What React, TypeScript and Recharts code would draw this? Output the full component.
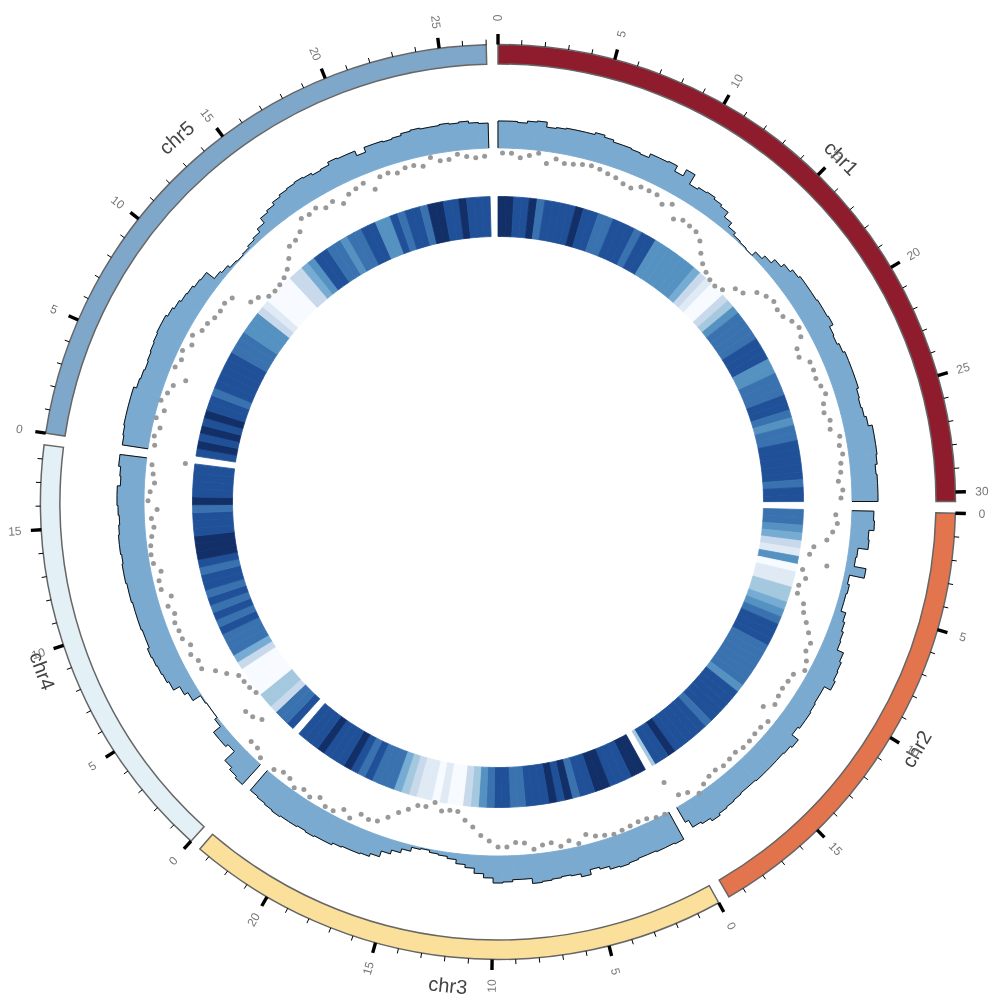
import { Cell, Pie, PieChart, PolarAngleAxis, PolarRadiusAxis, Radar, RadarChart, Sector } from "recharts";

const chromosomes = ["chr1", "chr2", "chr3", "chr4", "chr5"];
const chrLengths = [30.4, 19.7, 23.5, 18.6, 27.0];
const chrColors = ["#8f1c2d", "#e2744e", "#fae09b", "#e3f1f7", "#7fa7c9"];
const GAP = 0.5;
const BIN = 0.5;

// histogram track, one value per 0.5 Mb bin
const histChr1 = [27, 27, 26, 28, 29, 24, 25, 26, 26, 26, 28, 26, 24, 24, 23, 22, 26, 26, 27, 21, 28, 17, 19, 20, 18, 16, 10, 5, 2, 1, 0, 5, 9, 14, 18, 21, 23, 23, 23, 24, 24, 25, 21, 20, 22, 24, 24, 24, 24, 22, 21, 22, 24, 28, 28, 28, 27, 25, 26, 26, 26];
const histChr2 = [22, 23, 18, 19, 9, 8, 20, 5, 7, 6, 6, 11, 13, 15, 16, 23, 25, 26, 28, 21, 21, 22, 23, 23, 21, 29, 27, 26, 26, 26, 26, 25, 25, 26, 27, 28, 30, 27, 25, 17];
const histChr3 = [31, 30, 30, 29, 29, 30, 31, 30, 27, 25, 30, 27, 26, 27, 28, 29, 24, 24, 26, 27, 22, 18, 13, 10, 6, 4, 3, 1, 2, 6, 10, 14, 20, 23, 24, 24, 25, 27, 27, 28, 27, 28, 28, 29, 28, 27, 26];
const histChr4 = [27, 25, 22, 9, 12, 12, 3, 0, 0, 1, 10, 14, 21, 23, 24, 25, 26, 24, 24, 25, 25, 25, 26, 26, 27, 27, 26, 27, 27, 26, 25, 26, 27, 27, 24, 25, 27, 27];
const histChr5 = [26, 27, 28, 28, 28, 28, 25, 24, 23, 24, 25, 26, 27, 27, 25, 23, 21, 20, 18, 17, 7, 5, 2, 1, 2, 4, 6, 10, 16, 18, 21, 23, 24, 25, 24, 22, 23, 26, 25, 25, 20, 25, 25, 24, 25, 27, 28, 27, 27, 28, 27, 28, 26, 25];

// scatter track
const dotsChr1 = [49, 49, 45, 48, 51, 42, 48, 45, 46, 48, 49, 48, 46, 45, 42, 41, 46, 46, 46, 40, 45, 33, 37, 36, 35, 30, 21, 14, 10, 7, 6, 9, 19, 22, 33, 38, 41, 39, 40, 45, 48, 45, 36, 34, 42, 42, 41, 43, 45, 40, 38, 42, 40, 48, 46, 48, 45, 44, 41, 45, 43];
const dotsChr2 = [38, 40, 36, 31, 19, 16, 35, 12, 17, 12, 13, 22, 25, 31, 37, 43, 42, 47, 50, 42, 41, 40, 41, 43, 35, 48, 46, 46, 47, 47, 45, 46, 47, 45, 46, 49, 54, 47, 44, 26];
const dotsChr3 = [54, 53, 50, 49, 50, 51, 52, 50, 48, 44, 51, 46, 50, 45, 46, 49, 42, 41, 45, 45, 39, 34, 26, 20, 12, 12, 14, 7, 13, 14, 20, 26, 34, 41, 43, 41, 49, 44, 50, 50, 45, 50, 47, 51, 46, 45, 49];
const dotsChr4 = [49, 44, 44, 21, 26, 28, 8, 10, 11, 12, 21, 29, 40, 39, 43, 39, 44, 44, 45, 42, 46, 40, 48, 48, 44, 50, 51, 50, 48, 45, 47, 41, 50, 48, 44, 46, 48, 15];
const dotsChr5 = [48, 50, 46, 52, 46, 52, 48, 45, 35, 50, 47, 50, 44, 48, 42, 41, 38, 37, 38, 35, 18, 15, 8, 7, 8, 10, 14, 21, 30, 31, 35, 45, 44, 46, 41, 43, 36, 42, 44, 46, 36, 46, 47, 44, 47, 47, 44, 51, 46, 46, 50, 47, 45, 46];

// heatmap track, 0 (palest) to 8 (darkest)
const heatChr1 = [8, 8, 7, 7, 8, 6, 7, 7, 7, 7, 8, 7, 7, 6, 6, 7, 7, 7, 6, 7, 7, 5, 5, 5, 5, 5, 5, 4, 2, 1, 0, 0, 2, 3, 5, 6, 6, 6, 6, 7, 7, 7, 5, 5, 6, 6, 6, 7, 7, 6, 5, 6, 6, 7, 7, 7, 7, 7, 6, 7, 7];
const heatChr2 = [6, 6, 5, 4, 2, 1, 5, 0, 1, 1, 3, 3, 4, 5, 6, 7, 7, 7, 6, 6, 6, 6, 6, 6, 5, 7, 7, 7, 7, 7, 6, 7, 7, 7, 7, 7, 8, 7, 7, 3];
const heatChr3 = [8, 8, 7, 7, 7, 8, 8, 7, 7, 6, 8, 7, 8, 7, 7, 7, 6, 6, 7, 7, 6, 5, 3, 2, 0, 0, 1, 0, 1, 1, 2, 3, 4, 6, 6, 6, 7, 6, 7, 8, 7, 7, 7, 8, 7, 7, 7];
const heatChr4 = [7, 6, 6, 2, 3, 3, 0, 0, 0, 0, 2, 4, 6, 6, 6, 7, 6, 7, 6, 7, 6, 7, 7, 6, 7, 8, 8, 8, 7, 7, 7, 6, 8, 7, 7, 7, 7, 7];
const heatChr5 = [7, 8, 7, 8, 7, 8, 7, 7, 6, 7, 7, 7, 7, 7, 6, 6, 6, 5, 5, 5, 2, 1, 0, 0, 0, 0, 2, 2, 4, 5, 7, 7, 6, 6, 5, 6, 6, 7, 7, 5, 5, 7, 6, 7, 7, 6, 8, 8, 7, 7, 8, 7, 7, 7];
const heatColors = ["#f7fbff", "#e0eaf5", "#c9d9ec", "#a4c8de", "#76acd3", "#5592c2", "#3a72b0", "#205198", "#122f68"];

const histTracks = [histChr1, histChr2, histChr3, histChr4, histChr5];
const dotTracks = [dotsChr1, dotsChr2, dotsChr3, dotsChr4, dotsChr5];
const heatTracks = [heatChr1, heatChr2, heatChr3, heatChr4, heatChr5];

const WIDTH = 996;
const HEIGHT = 998;
const CX = 498;
const CY = 502;
const HIST_BASE = 354;
const total = chrLengths.reduce((a, b) => a + b + GAP, 0);
const offsets = chrLengths.map((_, i) => chrLengths.slice(0, i).reduce((a, b) => a + b + GAP, 0));

const binSize = (chr: number, i: number) => Math.min(BIN, chrLengths[chr] - i * BIN);

const ringRows = chromosomes.flatMap((name, i) => [
  { name, size: chrLengths[i], color: chrColors[i], mid: offsets[i] + chrLengths[i] / 2 },
  { name: "", size: GAP, color: "none", mid: 0 },
]);

const histRows = histTracks.flatMap((track, c) => [
  ...track.map((h, i) => ({
    size: binSize(c, i),
    h,
    prev: i > 0 ? track[i - 1] : null,
    next: i < track.length - 1 ? track[i + 1] : null,
  })),
  { size: GAP, h: null, prev: null, next: null },
]);

const heatRows = heatTracks.flatMap((track, c) => [
  ...track.map((v, i) => ({ size: binSize(c, i), color: heatColors[v] })),
  { size: GAP, color: "none" },
]);

const dotRows = dotTracks.flatMap((track, c) =>
  track.map((v, i) => ({ pos: offsets[c] + i * BIN + binSize(c, i) / 2, v })),
);

const tickRows = chrLengths.flatMap((len, c) =>
  Array.from({ length: Math.floor(len) + 1 }, (_, mb) => ({ pos: offsets[c] + mb, mb, ring: 157.5 })),
);

const pt = (r: number, deg: number) => {
  const rad = (deg * Math.PI) / 180;
  return `${CX + r * Math.cos(rad)} ${CY - r * Math.sin(rad)}`;
};

const rowOf = (props: any) => props.payload?.payload ?? props.payload;

const HistFill = (props: any) => {
  const row = rowOf(props);
  if (row.h === null || row.h === undefined) return null;
  return <Sector {...props} innerRadius={HIST_BASE} outerRadius={HIST_BASE + row.h} fill="#7aaad0" stroke="#7aaad0" strokeWidth={0.9} />;
};

const HistOutline = (props: any) => {
  const { startAngle, endAngle } = props;
  const row = rowOf(props);
  if (row.h === null || row.h === undefined) return null;
  const r = HIST_BASE + row.h;
  let d = `M${pt(row.prev === null ? HIST_BASE : r, startAngle)} L${pt(r, startAngle)} L${pt(r, endAngle)}`;
  d += ` L${pt(row.next === null ? HIST_BASE : HIST_BASE + row.next, endAngle)}`;
  return <path d={d} fill="none" stroke="#111" strokeWidth={1} />;
};

const ChrLabel = (props: any) => {
  const row = rowOf(props);
  if (!row?.name) return null;
  const a = (row.mid / total) * 360;
  const rad = (a * Math.PI) / 180;
  const x = CX + 486 * Math.sin(rad);
  const y = CY - 486 * Math.cos(rad);
  const rot = a < 90 ? a : a < 270 ? a - 180 : a - 360;
  return (
    <text x={x} y={y} textAnchor="middle" dominantBaseline="central" fontSize={20} fill="#444" transform={`rotate(${rot} ${x} ${y})`}>
      {row.name}
    </text>
  );
};

const TickMark = (props: any) => {
  const { cx, cy, payload } = props;
  const a = (payload.pos / total) * 360;
  const rad = (a * Math.PI) / 180;
  const ux = Math.sin(rad);
  const uy = -Math.cos(rad);
  const major = payload.mb % 5 === 0;
  const len = major ? 10.5 : 5;
  const lx = cx + ux * 26.5;
  const ly = cy + uy * 26.5;
  const rot = a <= 180 ? a - 90 : a + 90;
  return (
    <g key={props.index}>
      <line x1={cx} y1={cy} x2={cx + ux * len} y2={cy + uy * len} stroke="#000" strokeWidth={major ? 3.4 : 1} />
      {major && (
        <text x={lx} y={ly} textAnchor="middle" dominantBaseline="central" fontSize={12} fill="#777" transform={`rotate(${rot} ${lx} ${ly})`}>
          {payload.mb}
        </text>
      )}
    </g>
  );
};

const layer: React.CSSProperties = { position: "absolute", left: 0, top: 0, willChange: "transform" };
const chartMargin = { top: 0, right: 0, bottom: 0, left: 0 };

const polarAxes = (
  <>
    <PolarAngleAxis dataKey="pos" type="number" domain={[0, total]} tick={false} axisLine={false} />
    <PolarRadiusAxis type="number" domain={[-300, 200]} tick={false} axisLine={false} />
  </>
);

export default function App() {
  return (
    <div style={{ position: "absolute", left: 0, top: 0, width: WIDTH, height: HEIGHT, overflow: "hidden", background: "#fff", fontFamily: "'Liberation Sans', sans-serif" }}>
      <div style={layer}>
        <PieChart width={WIDTH} height={HEIGHT} margin={chartMargin}>
          <Pie data={ringRows} dataKey="size" cx={CX} cy={CY} innerRadius={438} outerRadius={457.5} startAngle={90} endAngle={-270} stroke="#666" strokeWidth={1.5} label={ChrLabel} labelLine={false} isAnimationActive={false}>
            {ringRows.map((r, i) => (
              <Cell key={i} fill={r.color} stroke={r.color === "none" ? "none" : "#666"} />
            ))}
          </Pie>
          <Pie data={histRows} dataKey="size" cx={CX} cy={CY} innerRadius={HIST_BASE} outerRadius={380} startAngle={90} endAngle={-270} shape={HistFill} inactiveShape={HistFill} isAnimationActive={false} />
          <Pie data={histRows} dataKey="size" cx={CX} cy={CY} innerRadius={HIST_BASE} outerRadius={380} startAngle={90} endAngle={-270} shape={HistOutline} inactiveShape={HistOutline} isAnimationActive={false} />
          <Pie data={heatRows} dataKey="size" cx={CX} cy={CY} innerRadius={265.5} outerRadius={305.5} startAngle={90} endAngle={-270} strokeWidth={0.8} isAnimationActive={false}>
            {heatRows.map((r, i) => (
              <Cell key={i} fill={r.color} stroke={r.color} />
            ))}
          </Pie>
        </PieChart>
      </div>
      <div style={layer}>
        <RadarChart width={WIDTH} height={HEIGHT} data={dotRows} cx={CX} cy={CY} outerRadius={500} margin={chartMargin}>
          {polarAxes}
          <Radar dataKey="v" stroke="none" fill="none" dot={{ r: 2.5, fill: "#999", stroke: "none" }} isAnimationActive={false} />
        </RadarChart>
      </div>
      <div style={layer}>
        <RadarChart width={WIDTH} height={HEIGHT} data={tickRows} cx={CX} cy={CY} outerRadius={500} margin={chartMargin}>
          {polarAxes}
          <Radar dataKey="ring" stroke="none" fill="none" dot={TickMark} isAnimationActive={false} />
        </RadarChart>
      </div>
    </div>
  );
}
